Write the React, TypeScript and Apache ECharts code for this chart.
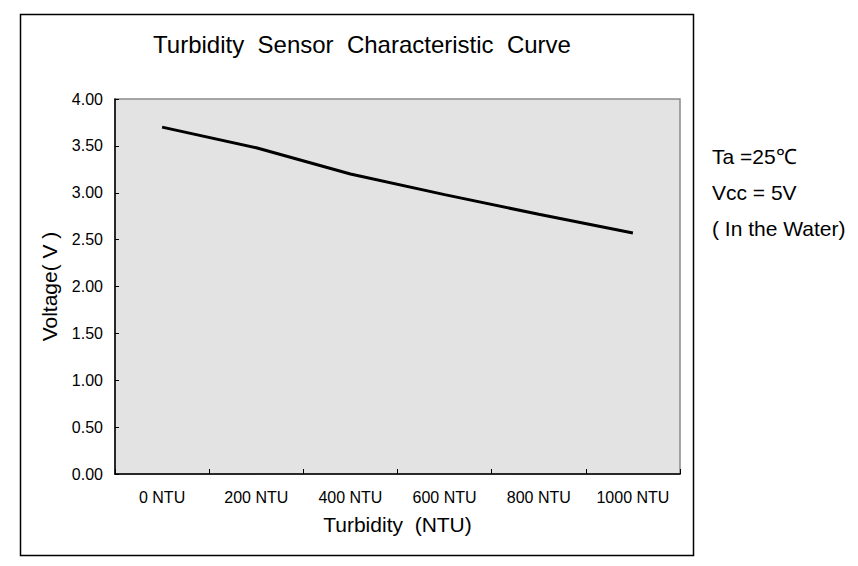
import React, { useEffect, useRef } from "react";
import * as echarts from "echarts";

const categories = ["0 NTU", "200 NTU", "400 NTU", "600 NTU", "800 NTU", "1000 NTU"];
const voltage = [3.70, 3.48, 3.20, 2.98, 2.77, 2.57];
const titleText = "Turbidity  Sensor  Characteristic  Curve";
const notes = ["Ta =25\u2103", "Vcc = 5V", "( In the Water)"];

const FONT = "'Liberation Sans', Arial, sans-serif";

export default function App() {
  const ref = useRef<HTMLDivElement>(null);
  useEffect(() => {
    document.body.style.margin = "0";
    const chart = echarts.init(ref.current!, null, { renderer: "svg" });
    chart.setOption({
      animation: false,
      backgroundColor: "#ffffff",
      textStyle: { fontFamily: FONT },
      title: {
        text: titleText,
        left: 357,
        top: 27,
        textAlign: "center",
        textStyle: { fontFamily: FONT, fontSize: 24, fontWeight: "normal", color: "#000" },
      },
      grid: {
        left: 115,
        right: 178,
        top: 99,
        bottom: 92,
        show: true,
        backgroundColor: "#e3e3e3",
        borderColor: "#8a8a8a",
        borderWidth: 1.5,
      },
      xAxis: {
        type: "category",
        data: categories,
        boundaryGap: true,
        axisLine: { show: true, lineStyle: { color: "#000", width: 1.5 } },
        axisTick: { show: true, inside: true, length: 5, interval: 0, lineStyle: { color: "#000" } },
        axisLabel: { color: "#000", fontSize: 16, margin: 15, interval: 0, fontFamily: FONT },
        name: "Turbidity  (NTU)",
        nameLocation: "middle",
        nameGap: 40,
        nameTextStyle: { color: "#000", fontSize: 21, fontFamily: FONT },
        splitLine: { show: false },
      },
      yAxis: {
        type: "value",
        min: 0,
        max: 4,
        interval: 0.5,
        axisLine: { show: true, lineStyle: { color: "#000", width: 1.5 } },
        axisTick: { show: true, inside: true, length: 4, lineStyle: { color: "#000" } },
        axisLabel: {
          color: "#000",
          fontSize: 16,
          margin: 12,
          fontFamily: FONT,
          formatter: (v: number) => v.toFixed(2),
        },
        name: "Voltage( V )",
        nameLocation: "middle",
        nameGap: 55,
        nameTextStyle: { color: "#000", fontSize: 21, fontFamily: FONT },
        splitLine: { show: false },
      },
      series: [
        {
          type: "line",
          data: voltage,
          showSymbol: false,
          symbol: "none",
          lineStyle: { color: "#000", width: 3 },
          smooth: false,
        },
      ],
      graphic: [
        {
          type: "rect",
          shape: { x: 20.5, y: 14.5, width: 673, height: 541 },
          style: { fill: "none", stroke: "#000", lineWidth: 1.5 },
          silent: true,
          z: -1,
        },
        ...notes.map((t, i) => ({
          type: "text",
          left: 712,
          top: 146 + i * 36,
          style: {
            text: t,
            fontSize: 21,
            fill: "#000",
            fontFamily: FONT,
          },
        })),
      ],
    });
    return () => chart.dispose();
  }, []);
  return <div ref={ref} style={{ width: 858, height: 566 }} />;
}
